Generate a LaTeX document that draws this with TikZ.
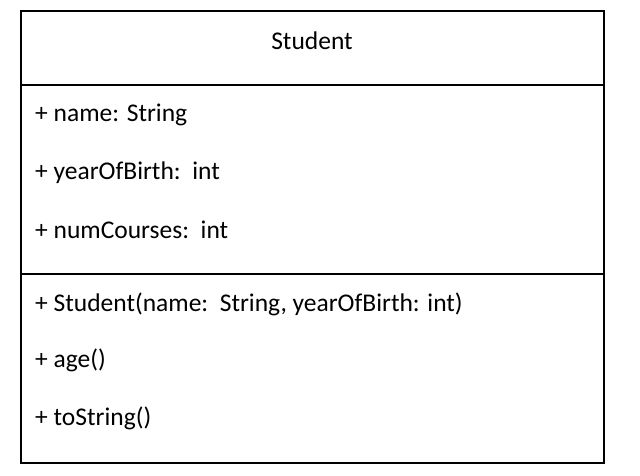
\documentclass[tikz,border=0pt]{standalone}
\usepackage{fontspec}
\setmainfont{Carlito}
\begin{document}
\begin{tikzpicture}[x=1pt,y=-1pt,
  member/.style={anchor=base west,inner sep=0pt,font=\fontsize{25.5}{30}\selectfont},
  title/.style={anchor=base,inner sep=0pt,font=\fontsize{25.5}{30}\selectfont},
  frame/.style={draw=black,line width=2pt}]
\useasboundingbox[fill=white] (0,0) rectangle (640,476);
\draw[frame] (21,11) rectangle (604,463);
\draw[frame] (21,85) -- (604,85);
\draw[frame] (21,274) -- (604,274);
\node[title] (cls) at (312,50) {Student};
\node[member] (a1) at (35,122) {+ name: String};
\node[member] (a2) at (35,179) {+ yearOfBirth:\ \ int};
\node[member] (a3) at (35,238) {+ numCourses:\ \ int};
\node[member] (m1) at (35,311) {+ Student(name:\ \ String, yearOfBirth: int)};
\node[member] (m2) at (35,367) {+ age()};
\node[member] (m3) at (35,425) {+ toString()};
\end{tikzpicture}
\end{document}
